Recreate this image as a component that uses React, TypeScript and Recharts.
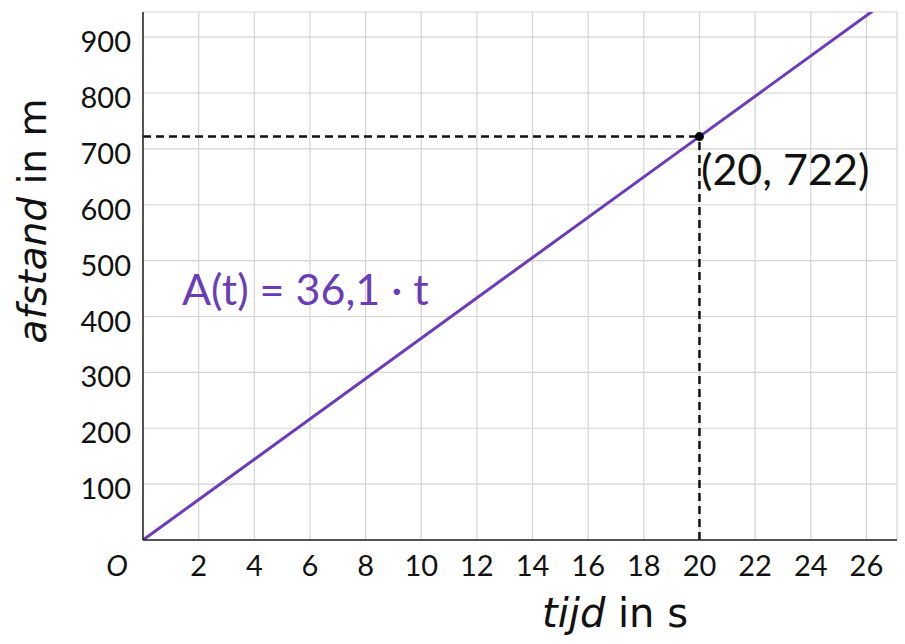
import { LineChart, Line, XAxis, YAxis, CartesianGrid, ReferenceLine, ReferenceDot } from "recharts";

const time = [0, 20, 27.1];
const distance = [0, 722, 978.3];
const xTicks = [0, 2, 4, 6, 8, 10, 12, 14, 16, 18, 20, 22, 24, 26];
const yTicks = [0, 100, 200, 300, 400, 500, 600, 700, 800, 900];
const point = { t: 20, a: 722, label: "(20, 722)" };
const formula = "A(t) = 36,1 · t";

const FONT = "Lato, 'Noto Sans', sans-serif";
const TITLE_FONT = "'DejaVu Sans', sans-serif";
const PURPLE = "#6a3db6";

const data = time.map((t, i) => ({ t, a: distance[i] }));

const XTick = (props: any) => {
  const { x, y, payload } = props;
  if (payload.value === 0) {
    return (
      <text x={x - 26} y={y + 28} textAnchor="middle" fontSize={29} fontStyle="italic" fill="#111" fontFamily={FONT}>
        O
      </text>
    );
  }
  return (
    <text x={x} y={y + 28} textAnchor="middle" fontSize={29} fill="#111" fontFamily={FONT}>
      {payload.value}
    </text>
  );
};

const YTick = (props: any) => {
  const { x, y, payload } = props;
  if (payload.value === 0) return null;
  return (
    <text x={x - 4} y={y + 15} textAnchor="end" fontSize={29} fill="#111" fontFamily={FONT}>
      {payload.value}
    </text>
  );
};

const XTitle = () => (
  <text x={615} y={627} textAnchor="middle" fontSize={40} fill="#111" fontFamily={TITLE_FONT}>
    <tspan fontStyle="italic">tijd</tspan> in s
  </text>
);

const YTitle = () => (
  <text x={46} y={221} transform="rotate(-90, 46, 221)" textAnchor="middle" fontSize={39} fill="#111" fontFamily={TITLE_FONT}>
    <tspan fontStyle="italic">afstand</tspan> in m
  </text>
);

export default function App() {
  return (
    <div style={{ position: "absolute", left: 0, top: 0, background: "#fff" }}>
      <LineChart width={905} height={644} data={data} margin={{ top: 12, right: 8, left: 0, bottom: 0 }}>
        <CartesianGrid stroke="#d4d4d4" strokeWidth={1.2} />
        <XAxis
          dataKey="t"
          type="number"
          domain={[0, 27.1]}
          ticks={xTicks}
          interval={0}
          tickLine={false}
          tick={<XTick />}
          height={104}
          axisLine={{ stroke: "#222", strokeWidth: 1.5 }}
          label={<XTitle />}
        />
        <YAxis
          type="number"
          domain={[0, 945]}
          allowDataOverflow
          ticks={yTicks}
          interval={0}
          tickLine={false}
          tick={<YTick />}
          width={143}
          axisLine={{ stroke: "#222", strokeWidth: 1.5 }}
          label={<YTitle />}
        />
        <ReferenceLine
          segment={[{ x: 0, y: point.a }, { x: point.t, y: point.a }]}
          stroke="#111"
          strokeWidth={2.5}
          strokeDasharray="8 5"
        />
        <ReferenceLine
          segment={[{ x: point.t, y: 0 }, { x: point.t, y: point.a }]}
          stroke="#111"
          strokeWidth={2.5}
          strokeDasharray="8 5"
        />
        <Line
          dataKey="a"
          type="linear"
          stroke={PURPLE}
          strokeWidth={3}
          dot={false}
          activeDot={false}
          isAnimationActive={false}
        />
        <ReferenceDot
          x={point.t}
          y={point.a}
          r={4.5}
          fill="#000"
          stroke="none"
          label={(p: any) => (
            <text x={p.viewBox.x + 6} y={p.viewBox.y + 53} fontSize={43} fill="#111" fontFamily={FONT}>
              {point.label}
            </text>
          )}
        />
        <ReferenceDot
          x={1.4}
          y={450}
          r={0}
          fill="none"
          stroke="none"
          label={(p: any) => (
            <text x={p.viewBox.x} y={p.viewBox.y + 16} fontSize={43} fill={PURPLE} fontFamily={FONT}>
              {formula}
            </text>
          )}
        />
      </LineChart>
    </div>
  );
}
